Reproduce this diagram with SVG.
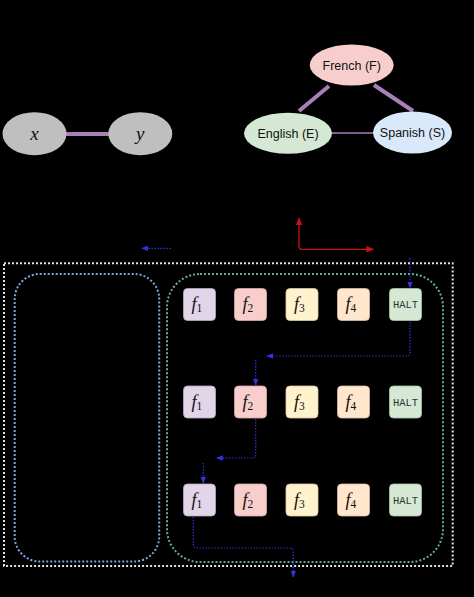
<svg xmlns="http://www.w3.org/2000/svg" width="474" height="597" viewBox="0 0 474 597">
<defs>
<style>
.sans{font-family:"Liberation Sans",Arial,sans-serif;font-size:12.5px;fill:#111;text-anchor:middle}
.var{font-family:"Liberation Serif","DejaVu Serif",serif;font-style:italic;font-size:19px;fill:#111;text-anchor:middle}
.fn{font-family:"Liberation Serif","DejaVu Serif",serif;font-style:italic;font-size:18px;fill:#111}
.sub{font-style:normal;font-size:11.5px}
.halt{font-family:"Liberation Mono","Courier New",monospace;font-size:10.5px;fill:#333;text-anchor:middle}
.cell{stroke-width:0.8}
.c1{fill:#e1d5e7;stroke:#b8a8c4}.c2{fill:#f8cecc;stroke:#d8aaa8}.c3{fill:#fff2cc;stroke:#d8cca4}.c4{fill:#ffe6cc;stroke:#d8bea4}.c5{fill:#d5e8d4;stroke:#a8c4a6}
.box{fill:none;stroke-width:2;stroke-dasharray:2 2}
.blue{fill:none;stroke:#3333dd;stroke-width:1.2;stroke-dasharray:1.5 1.5}
.red{fill:none;stroke:#cc1111;stroke-width:1.3}
.edge{stroke:#a680b8;stroke-width:4}
</style>
<marker id="ab" viewBox="0 0 10 10" refX="9" refY="5" markerWidth="7" markerHeight="7" orient="auto" markerUnits="userSpaceOnUse"><path d="M0,1 L10,5 L0,9 Z" fill="#3333dd"/></marker>
<marker id="ar" viewBox="0 0 10 10" refX="9" refY="5" markerWidth="8" markerHeight="8" orient="auto-start-reverse" markerUnits="userSpaceOnUse"><path d="M0,1 L10,5 L0,9 Z" fill="#cc1111"/></marker>
</defs>
<rect width="474" height="597" fill="#000"/>

<g id="edges-top">
<line class="edge" x1="66" y1="134" x2="109" y2="134"/>
<line class="edge" x1="329" y1="86" x2="299" y2="111"/>
<line class="edge" x1="374" y1="85" x2="413" y2="111"/>
<line x1="332" y1="133" x2="373" y2="133" stroke="#a680b8" stroke-width="1.5"/>
</g>

<g id="node-x"><ellipse cx="34.5" cy="133.7" rx="32" ry="21.5" fill="#bfbfbf"/><text class="var" x="34.5" y="140">x</text></g>
<g id="node-y"><ellipse cx="140.3" cy="133.7" rx="32" ry="21.5" fill="#bfbfbf"/><text class="var" x="140.3" y="140">y</text></g>
<g id="node-french"><ellipse cx="351.7" cy="65" rx="42" ry="20.5" fill="#f8cecc"/><text class="sans" x="351.7" y="69.5">French (F)</text></g>
<g id="node-english"><ellipse cx="288" cy="133.3" rx="44" ry="20.5" fill="#d5e8d4"/><text class="sans" x="288" y="137.8">English (E)</text></g>
<g id="node-spanish"><ellipse cx="412.5" cy="132.5" rx="39.5" ry="21" fill="#dae8fc"/><text class="sans" x="412.5" y="137">Spanish (S)</text></g>

<g id="containers">
<rect class="box" x="4" y="263.3" width="448.7" height="302.7" stroke="#e0e0e0"/>
<rect class="box" x="14.7" y="274" width="144.5" height="287.5" rx="25" stroke="#7ea6e0"/>
<rect class="box" x="167" y="274" width="276" height="288" rx="33" stroke="#67ab9f"/>
</g>

<g id="row1">
<g id="r1-f1"><rect class="cell c1" x="183.5" y="288.5" width="32" height="32" rx="4"/><text class="fn" x="191.5" y="310">f<tspan class="sub" dy="2">1</tspan></text></g>
<g id="r1-f2"><rect class="cell c2" x="234.5" y="288.5" width="32" height="32" rx="4"/><text class="fn" x="242.5" y="310">f<tspan class="sub" dy="2">2</tspan></text></g>
<g id="r1-f3"><rect class="cell c3" x="286" y="288.5" width="32" height="32" rx="4"/><text class="fn" x="294" y="310">f<tspan class="sub" dy="2">3</tspan></text></g>
<g id="r1-f4"><rect class="cell c4" x="337.5" y="288.5" width="32" height="32" rx="4"/><text class="fn" x="345.5" y="310">f<tspan class="sub" dy="2">4</tspan></text></g>
<g id="r1-halt"><rect class="cell c5" x="389.5" y="288.5" width="32" height="32" rx="4"/><text class="halt" x="405.5" y="308">HALT</text></g>
</g>
<g id="row2">
<g id="r2-f1"><rect class="cell c1" x="183.5" y="386" width="32" height="32" rx="4"/><text class="fn" x="191.5" y="407.5">f<tspan class="sub" dy="2">1</tspan></text></g>
<g id="r2-f2"><rect class="cell c2" x="234.5" y="386" width="32" height="32" rx="4"/><text class="fn" x="242.5" y="407.5">f<tspan class="sub" dy="2">2</tspan></text></g>
<g id="r2-f3"><rect class="cell c3" x="286" y="386" width="32" height="32" rx="4"/><text class="fn" x="294" y="407.5">f<tspan class="sub" dy="2">3</tspan></text></g>
<g id="r2-f4"><rect class="cell c4" x="337.5" y="386" width="32" height="32" rx="4"/><text class="fn" x="345.5" y="407.5">f<tspan class="sub" dy="2">4</tspan></text></g>
<g id="r2-halt"><rect class="cell c5" x="389.5" y="386" width="32" height="32" rx="4"/><text class="halt" x="405.5" y="405.5">HALT</text></g>
</g>
<g id="row3">
<g id="r3-f1"><rect class="cell c1" x="183.5" y="484" width="32" height="32" rx="4"/><text class="fn" x="191.5" y="505.5">f<tspan class="sub" dy="2">1</tspan></text></g>
<g id="r3-f2"><rect class="cell c2" x="234.5" y="484" width="32" height="32" rx="4"/><text class="fn" x="242.5" y="505.5">f<tspan class="sub" dy="2">2</tspan></text></g>
<g id="r3-f3"><rect class="cell c3" x="286" y="484" width="32" height="32" rx="4"/><text class="fn" x="294" y="505.5">f<tspan class="sub" dy="2">3</tspan></text></g>
<g id="r3-f4"><rect class="cell c4" x="337.5" y="484" width="32" height="32" rx="4"/><text class="fn" x="345.5" y="505.5">f<tspan class="sub" dy="2">4</tspan></text></g>
<g id="r3-halt"><rect class="cell c5" x="389.5" y="484" width="32" height="32" rx="4"/><text class="halt" x="405.5" y="503.5">HALT</text></g>
</g>

<g id="connectors">
<line class="blue" x1="171" y1="248.3" x2="142" y2="248.3" marker-end="url(#ab)"/>
<line class="blue" x1="410" y1="258" x2="410" y2="288" marker-end="url(#ab)"/>
<path class="blue" d="M410,322 V353 Q410,356 407,356 H267" marker-end="url(#ab)"/>
<line class="blue" x1="255.7" y1="360" x2="255.7" y2="385" marker-end="url(#ab)"/>
<path class="blue" d="M255.7,419 V455 Q255.7,458 252.7,458 H216.5" marker-end="url(#ab)"/>
<line class="blue" x1="203.3" y1="463" x2="203.3" y2="483" marker-end="url(#ab)"/>
<path class="blue" d="M193.3,517 V545 Q193.3,548 196.3,548 H290.3 Q293.3,548 293.3,551 V577" marker-end="url(#ab)"/>
<path class="red" d="M299,218 V246 Q299,249.3 302,249.3 H373.5" marker-start="url(#ar)" marker-end="url(#ar)"/>
</g>
</svg>
